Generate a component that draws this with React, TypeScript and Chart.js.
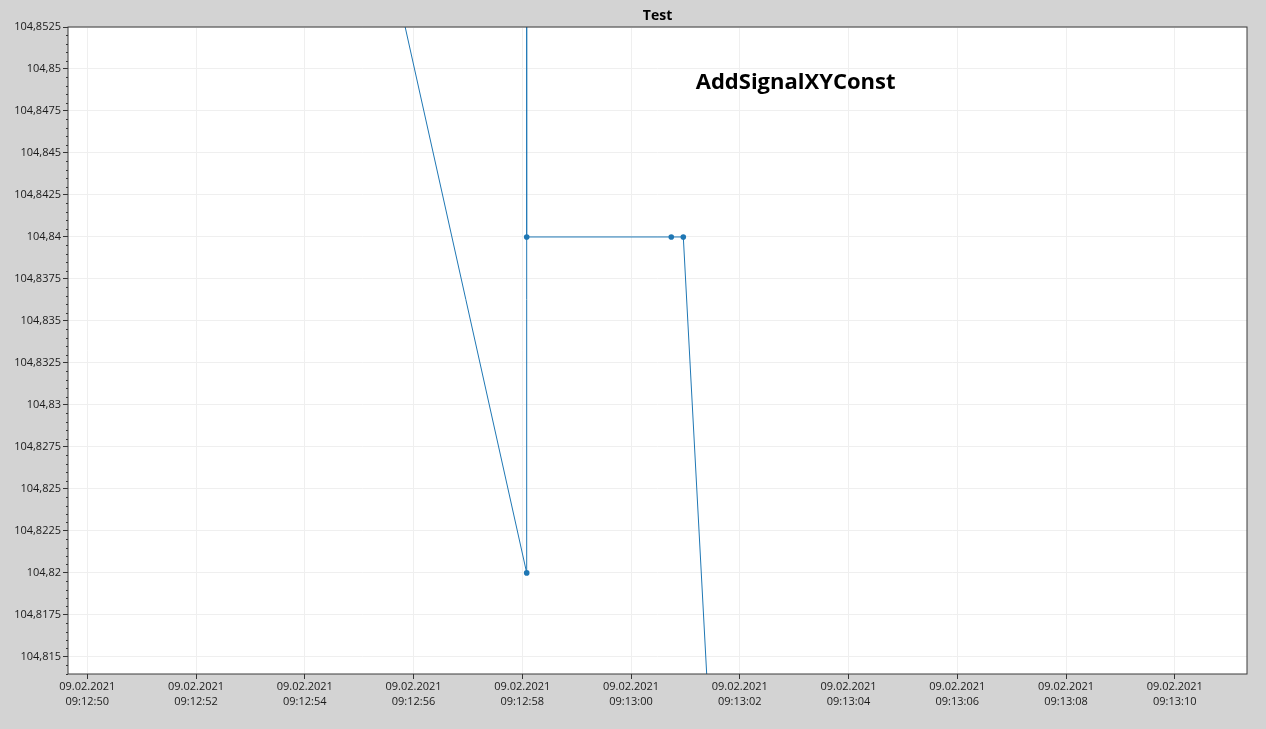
import { useEffect, useRef } from 'react';
import { Chart, registerables } from 'chart.js';

Chart.register(...registerables);

// ---- Data ----
const chartTitle = 'Test';
const annotationText = 'AddSignalXYConst';
const dateLabel = '09.02.2021';

// x values: seconds after 09:12:50
const xTickSeconds = [0, 2, 4, 6, 8, 10, 12, 14, 16, 18, 20];
const xTickLabels = [
  '09:12:50', '09:12:52', '09:12:54', '09:12:56', '09:12:58', '09:13:00',
  '09:13:02', '09:13:04', '09:13:06', '09:13:08', '09:13:10',
];

const yTickValues = [
  104.815, 104.8175, 104.82, 104.8225, 104.825, 104.8275, 104.83, 104.8325,
  104.835, 104.8375, 104.84, 104.8425, 104.845, 104.8475, 104.85, 104.8525,
];
const yTickLabels = [
  '104,815', '104,8175', '104,82', '104,8225', '104,825', '104,8275', '104,83', '104,8325',
  '104,835', '104,8375', '104,84', '104,8425', '104,845', '104,8475', '104,85', '104,8525',
];

const seriesX = [5.33, 8.081, 8.081, 8.081, 10.74, 10.961, 11.457];
const seriesY = [104.86, 104.82, 104.86, 104.84, 104.84, 104.84, 104.81];

const xMin = -0.355;
const xMax = 21.328;
const yMin = 104.81398;
const yMax = 104.8525;
const yMinorStep = 0.0005;

const annotationX = 11.19;
const annotationY = 104.84881;

const FONT = '"Open Sans", "Noto Sans", sans-serif';

const decorPlugin = {
  id: 'decor',
  beforeDraw(chart: any) {
    const { ctx, chartArea: a } = chart;
    ctx.save();
    ctx.fillStyle = '#ffffff';
    ctx.fillRect(a.left, a.top, a.right - a.left, a.bottom - a.top);
    ctx.restore();
  },
  afterDraw(chart: any) {
    const { ctx, chartArea: a } = chart;
    const xs = chart.scales.x;
    const ys = chart.scales.y;
    ctx.save();
    // minor ticks on the y axis
    ctx.strokeStyle = '#333333';
    ctx.lineWidth = 1;
    ctx.beginPath();
    const start = Math.ceil(yMin / yMinorStep - 1e-6);
    const end = Math.floor(yMax / yMinorStep + 1e-6);
    for (let k = start; k <= end; k++) {
      if (k % 5 === 0) continue;
      const py = Math.round(ys.getPixelForValue(k * yMinorStep)) + 0.5;
      ctx.moveTo(a.left - 2, py);
      ctx.lineTo(a.left, py);
    }
    ctx.stroke();
    // frame
    ctx.strokeStyle = '#3a3a3a';
    ctx.lineWidth = 1;
    ctx.strokeRect(a.left, a.top, a.right - a.left, a.bottom - a.top);
    // title
    ctx.fillStyle = '#000000';
    ctx.font = `bold 14px ${FONT}`;
    ctx.textAlign = 'center';
    ctx.textBaseline = 'alphabetic';
    ctx.fillText(chartTitle, (a.left + a.right) / 2, 20);
    // annotation
    ctx.font = `bold 22px ${FONT}`;
    ctx.textAlign = 'left';
    ctx.fillText(annotationText, xs.getPixelForValue(annotationX), ys.getPixelForValue(annotationY));
    ctx.restore();
  },
};

export default function App() {
  const canvasRef = useRef<HTMLCanvasElement | null>(null);

  useEffect(() => {
    const canvas = canvasRef.current;
    if (!canvas) return;
    const points = seriesX.map((x, i) => ({ x, y: seriesY[i] }));
    const tickFont = { family: FONT, size: 11, lineHeight: 15 / 11 };
    const chart = new Chart(canvas, {
      type: 'line',
      data: {
        datasets: [
          {
            data: points,
            borderColor: '#1f77b4',
            backgroundColor: '#1f77b4',
            borderWidth: 1,
            pointRadius: 2.8,
            pointBorderWidth: 0,
            pointBackgroundColor: '#1f77b4',
            tension: 0,
            fill: false,
          },
        ],
      },
      options: {
        responsive: false,
        animation: false,
        events: [],
        layout: { padding: { left: 0, top: 27, right: 19, bottom: 0 } },
        plugins: {
          legend: { display: false },
          tooltip: { enabled: false },
          title: { display: false },
        },
        scales: {
          x: {
            type: 'linear',
            min: xMin,
            max: xMax,
            afterFit: (s: any) => {
              s.height = 55;
            },
            afterBuildTicks: (s: any) => {
              s.ticks = xTickSeconds.map((v) => ({ value: v }));
            },
            ticks: {
              autoSkip: false,
              maxRotation: 0,
              padding: 0,
              color: '#1a1a1a',
              font: tickFont,
              callback: (_v: any, i: number) => [dateLabel, xTickLabels[i]],
            },
            grid: { color: '#efefef', tickColor: '#333333', tickLength: 5, lineWidth: 1 },
            border: { display: false },
          },
          y: {
            type: 'linear',
            min: yMin,
            max: yMax,
            afterFit: (s: any) => {
              s.width = 68;
            },
            afterBuildTicks: (s: any) => {
              s.ticks = yTickValues.map((v) => ({ value: v }));
            },
            ticks: {
              autoSkip: false,
              padding: 2,
              color: '#1a1a1a',
              font: tickFont,
              callback: (_v: any, i: number) => yTickLabels[i],
            },
            grid: { color: '#efefef', tickColor: '#333333', tickLength: 5, lineWidth: 1 },
            border: { display: false },
          },
        },
      },
      plugins: [decorPlugin],
    } as any);
    return () => chart.destroy();
  }, []);

  return (
    <div
      style={{
        position: 'fixed',
        left: 0,
        top: 0,
        width: 1266,
        height: 729,
        background: '#d3d3d3',
      }}
    >
      <canvas ref={canvasRef} width={1266} height={729} style={{ display: 'block', width: 1266, height: 729 }} />
    </div>
  );
}
